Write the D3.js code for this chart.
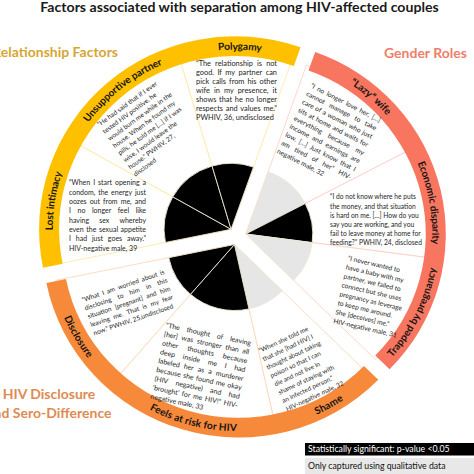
<!DOCTYPE html>
<html><head><meta charset="utf-8">
<script src="https://cdn.jsdelivr.net/npm/d3@7"></script>
<style>html,body{margin:0;padding:0;background:#fff;overflow:hidden}svg{display:block}</style>
</head><body>
<svg id="c" width="474" height="474"></svg>
<script>
// ---------- DATA ----------
const title = "Factors associated with separation among HIV-affected couples";
const groupNames = ["Gender Roles", "HIV Disclosure and Sero-Difference", "Relationship Factors"];
const factorNames = ["“Lazy” wife","Economic disparity","Trapped by pregnancy","Shame","Feels at risk for HIV","Disclosure","Lost intimacy","Unsupportive partner","Polygamy"];
const factorGroup = [0,0,0,1,1,1,2,2,2];
const factorSpan = [43,35,37,33,53.5,37.5,41,44,36]; // angular span, degrees
const factorSignificant = [false,true,false,false,true,true,true,true,true];
const quoteLines = [
  ["“I no longer love her, […]","cannot manage to take","care of a woman who just","sits at home and waits for","everything because my","income and earnings are","low. […] Just know that I","am tired of her” HIV-","negative male, 32"],
  ["“I do not know where he puts","the money, and that situation","is hard on me. […] How do you","say you are working, and you","fail to leave money at home for","feeding?” PWHIV, 24, disclosed"],
  ["“I never wanted to","have a baby with my","partner, we failed to","connect but she uses","pregnancy as leverage","to keep me around.","She [deceives] me.”","HIV-negative male, 31"],
  ["“When she told me","that she [had HIV] I","thought about taking","poison so that I can","die and not live in","shame of staying with","an infected person.”","HIV-negative male, 32"],
  ["“The thought of leaving","[her] was stronger than all","other thoughts because","deep inside me I had","labeled her as a murderer","because she found me okay","(HIV negative) and had","‘brought’ for me HIV!” HIV-","negative male, 33"],
  ["“What I am worried about is","disclosing to him in this","situation [pregnant] and him","leaving me. That is my fear","now.” PWHIV, 25,undisclosed"],
  ["“When I start opening a","condom, the energy just","oozes out from me, and","I no longer feel like","having sex whereby","even the sexual appetite","I had just goes away.”","HIV-negative male, 39"],
  ["“He had said that if I ever","tested HIV positive, he","would burn me while in the","house. When he found my","pills, he told me […] if I was","wise, I would leave the","house.” PWHIV, 27,","disclosed"],
  ["“The relationship is not","good. If my partner can","pick calls from his other","wife in my presence, it","shows that he no longer","respects and values me.”","PWHIV, 36, undisclosed"]
];
const legendLabels = ["Statistically significant: p-value <0.05","Only captured using qualitative data"];

// ---------- LAYOUT / STYLE ----------
const W = 474, H = 474;
const ringC = {x:241, y:236};
const pieC = {x:237, y:236};
const yScale = 0.985;
const startDeg = 19.5, explode = 9;
const rPie = 67, rIn = 176, rOut = 196, rLab = 186;
const groupColors = ["#F8755F","#F68A3A","#FFC000"];
const groupLabelColors = ["#EE7E69","#DF8A50","#D6A632"];
const FONT = "Lato, 'Open Sans', sans-serif";
const quoteLayout = [
  {x:311, y:85, rot:27, w:78, align:"justify", lh:9.2},
  {x:330, y:197, rot:0, w:92, align:"left", lh:9.2},
  {x:348, y:258, rot:13, w:65, align:"left", lh:9.2},
  {x:259, y:351, rot:-25, w:63, align:"left", lh:9.2},
  {x:166, y:325, rot:12, w:87, align:"justify", lh:9.1},
  {x:82, y:300, rot:-19, w:87, align:"justify", lh:8.8},
  {x:69, y:183, rot:0, w:77, align:"justify", lh:9.3},
  {x:98, y:125, rot:-36, w:78, align:"left", lh:8.8},
  {x:196, y:63, rot:0, w:81, align:"justify", lh:9.1}
];

const svg = d3.select("#c");
svg.append("rect").attr("width",W).attr("height",H).attr("fill","#fff");
const meas = svg.append("text").attr("visibility","hidden").attr("font-family",FONT);
function tw(str, fs, weight){ meas.attr("font-size",fs).attr("font-weight",weight||"normal").text(str); return meas.node().getComputedTextLength(); }

const rad = Math.PI/180;
const pie = d3.pie().value(d=>d).sort(null).startAngle(startDeg*rad).endAngle(startDeg*rad+2*Math.PI);
const arcs = pie(factorSpan);
const groupsInfo = groupNames.map((name,g)=>{
  const as = arcs.filter((a,i)=>factorGroup[i]===g);
  const s = d3.min(as,a=>a.startAngle), e = d3.max(as,a=>a.endAngle), mid=(s+e)/2;
  return {name, s, e, mid, dx: explode*Math.sin(mid), dy: -explode*Math.cos(mid)};
});

const sectorArc = d3.arc().innerRadius(0).outerRadius(rIn+6);
const pieArc = d3.arc().innerRadius(0).outerRadius(rPie);
const ringArc = d3.arc().innerRadius(rIn).outerRadius(rOut);

const wheel = svg.append("g")
  .attr("transform",`translate(0,${ringC.y}) scale(1,${yScale}) translate(0,${-ringC.y})`);
// quote sectors (from pie centre)
groupsInfo.forEach((gi,g)=>{
  const gg = wheel.append("g").attr("transform",`translate(${pieC.x+gi.dx},${pieC.y+gi.dy})`);
  const tint = d3.interpolateRgb(groupColors[g],"#fff")(0.62);
  arcs.forEach((a,i)=>{ if(factorGroup[i]!==g) return;
    gg.append("path").attr("d",sectorArc(a)).attr("fill","#fff").attr("stroke",tint).attr("stroke-width",0.8);
  });
});
// ring
groupsInfo.forEach((gi,g)=>{
  const gg = wheel.append("g").attr("transform",`translate(${ringC.x+gi.dx},${ringC.y+gi.dy})`);
  gg.append("path").attr("d",ringArc({startAngle:gi.s,endAngle:gi.e})).attr("fill",groupColors[g]);
});
// inner pie
groupsInfo.forEach((gi,g)=>{
  const gg = wheel.append("g").attr("transform",`translate(${pieC.x+gi.dx},${pieC.y+gi.dy})`);
  arcs.forEach((a,i)=>{ if(factorGroup[i]!==g) return;
    gg.append("path").attr("d",pieArc(a)).attr("fill",factorSignificant[i]?"#000":"#e6e6e6")
      .attr("stroke","#efe6d2").attr("stroke-width",0.9);
  });
});

// ring labels on arcs
const labFs = 10.8 * 44 / tw("Polygamy",10.8,"bold");
arcs.forEach((a,i)=>{
  const gi = groupsInfo[factorGroup[i]];
  const ox = ringC.x+gi.dx, oy = ringC.y+gi.dy;
  const mid = (a.startAngle+a.endAngle)/2;
  let deg = (mid/rad) % 360; if (deg<0) deg+=360;
  const cw = (deg < 90 || deg > 270);
  const p = ang => [ox + rLab*Math.sin(ang), oy - rLab*Math.cos(ang)];
  const a0 = a.startAngle, a1 = a.endAngle;
  let d;
  if (cw) { const s=p(a0), e=p(a1); d = `M${s[0]},${s[1]} A${rLab},${rLab} 0 0 1 ${e[0]},${e[1]}`; }
  else { const s=p(a1), e=p(a0); d = `M${s[0]},${s[1]} A${rLab},${rLab} 0 0 0 ${e[0]},${e[1]}`; }
  wheel.append("path").attr("id","lp"+i).attr("d",d).attr("fill","none");
  wheel.append("text").attr("font-family",FONT).attr("font-weight","bold").attr("font-size",labFs)
    .attr("fill","#151515").attr("dy","0.35em")
    .append("textPath").attr("href","#lp"+i).attr("startOffset","50%").attr("text-anchor","middle")
    .text(factorNames[i]);
});

// quotes
quoteLines.forEach((lines,i)=>{
  const L = quoteLayout[i];
  const base = 7.5;
  const maxNat = d3.max(lines, l=>tw(l,base));
  const target = L.align==="justify" ? L.w*0.97 : L.w;
  const fs = base * target / maxNat;
  const g = svg.append("g").attr("transform",`translate(${L.x},${L.y}) rotate(${L.rot})`)
    .attr("font-family",FONT).attr("font-size",fs).attr("fill","#1e1e1e");
  lines.forEach((line,k)=>{
    const y = k*L.lh;
    if (L.align==="justify" && k < lines.length-1) {
      const words = line.split(" ");
      const ws = words.map(w=>tw(w,fs));
      const gap = words.length>1 ? (L.w - d3.sum(ws))/(words.length-1) : 0;
      let x = 0;
      words.forEach((w,j)=>{
        g.append("text").attr("x",x).attr("y",y).attr("dy","0.35em").text(w);
        x += ws[j] + gap;
      });
    } else {
      g.append("text").attr("x",0).attr("y",y).attr("dy","0.35em").text(line);
    }
  });
});

// title
const tFs = 14 * 399 / tw(title,14,"bold");
svg.append("text").attr("x",239.5).attr("y",11.5).attr("text-anchor","middle")
  .attr("font-family",FONT).attr("font-weight","bold").attr("font-size",tFs).attr("fill","#1a1a1a").text(title);

// group labels
const gFs = 14 * 83 / tw("Gender Roles",14,"bold");
svg.append("text").attr("x",118).attr("y",52).attr("dy","0.35em").attr("text-anchor","end")
  .attr("font-family",FONT).attr("font-weight","bold").attr("font-size",gFs).attr("fill",groupLabelColors[2]).text(groupNames[2]);
svg.append("text").attr("x",384).attr("y",53).attr("dy","0.35em")
  .attr("font-family",FONT).attr("font-weight","bold").attr("font-size",gFs).attr("fill",groupLabelColors[0]).text(groupNames[0]);
const hivLines = ["HIV Disclosure","and Sero-Difference"];
hivLines.forEach((t,k)=>{
  svg.append("text").attr("x",49).attr("y",394+k*19.5).attr("dy","0.35em").attr("text-anchor","middle")
    .attr("font-family",FONT).attr("font-weight","bold").attr("font-size",gFs).attr("fill",groupLabelColors[1]).text(t);
});

// legend
const lFs = 9.5 * 142 / tw(legendLabels[0],9.5);
svg.append("rect").attr("x",305).attr("y",443).attr("width",W-305).attr("height",12.5).attr("fill","#000");
svg.append("text").attr("x",308).attr("y",449.3).attr("dy","0.35em").attr("font-family",FONT).attr("font-size",lFs)
  .attr("fill","#fff").text(legendLabels[0]);
svg.append("rect").attr("x",305).attr("y",458).attr("width",W-305).attr("height",16).attr("fill","#e8e8e8");
svg.append("text").attr("x",308).attr("y",466).attr("dy","0.35em").attr("font-family",FONT).attr("font-size",lFs)
  .attr("fill","#111").text(legendLabels[1]);
meas.remove();
</script>
</body></html>
